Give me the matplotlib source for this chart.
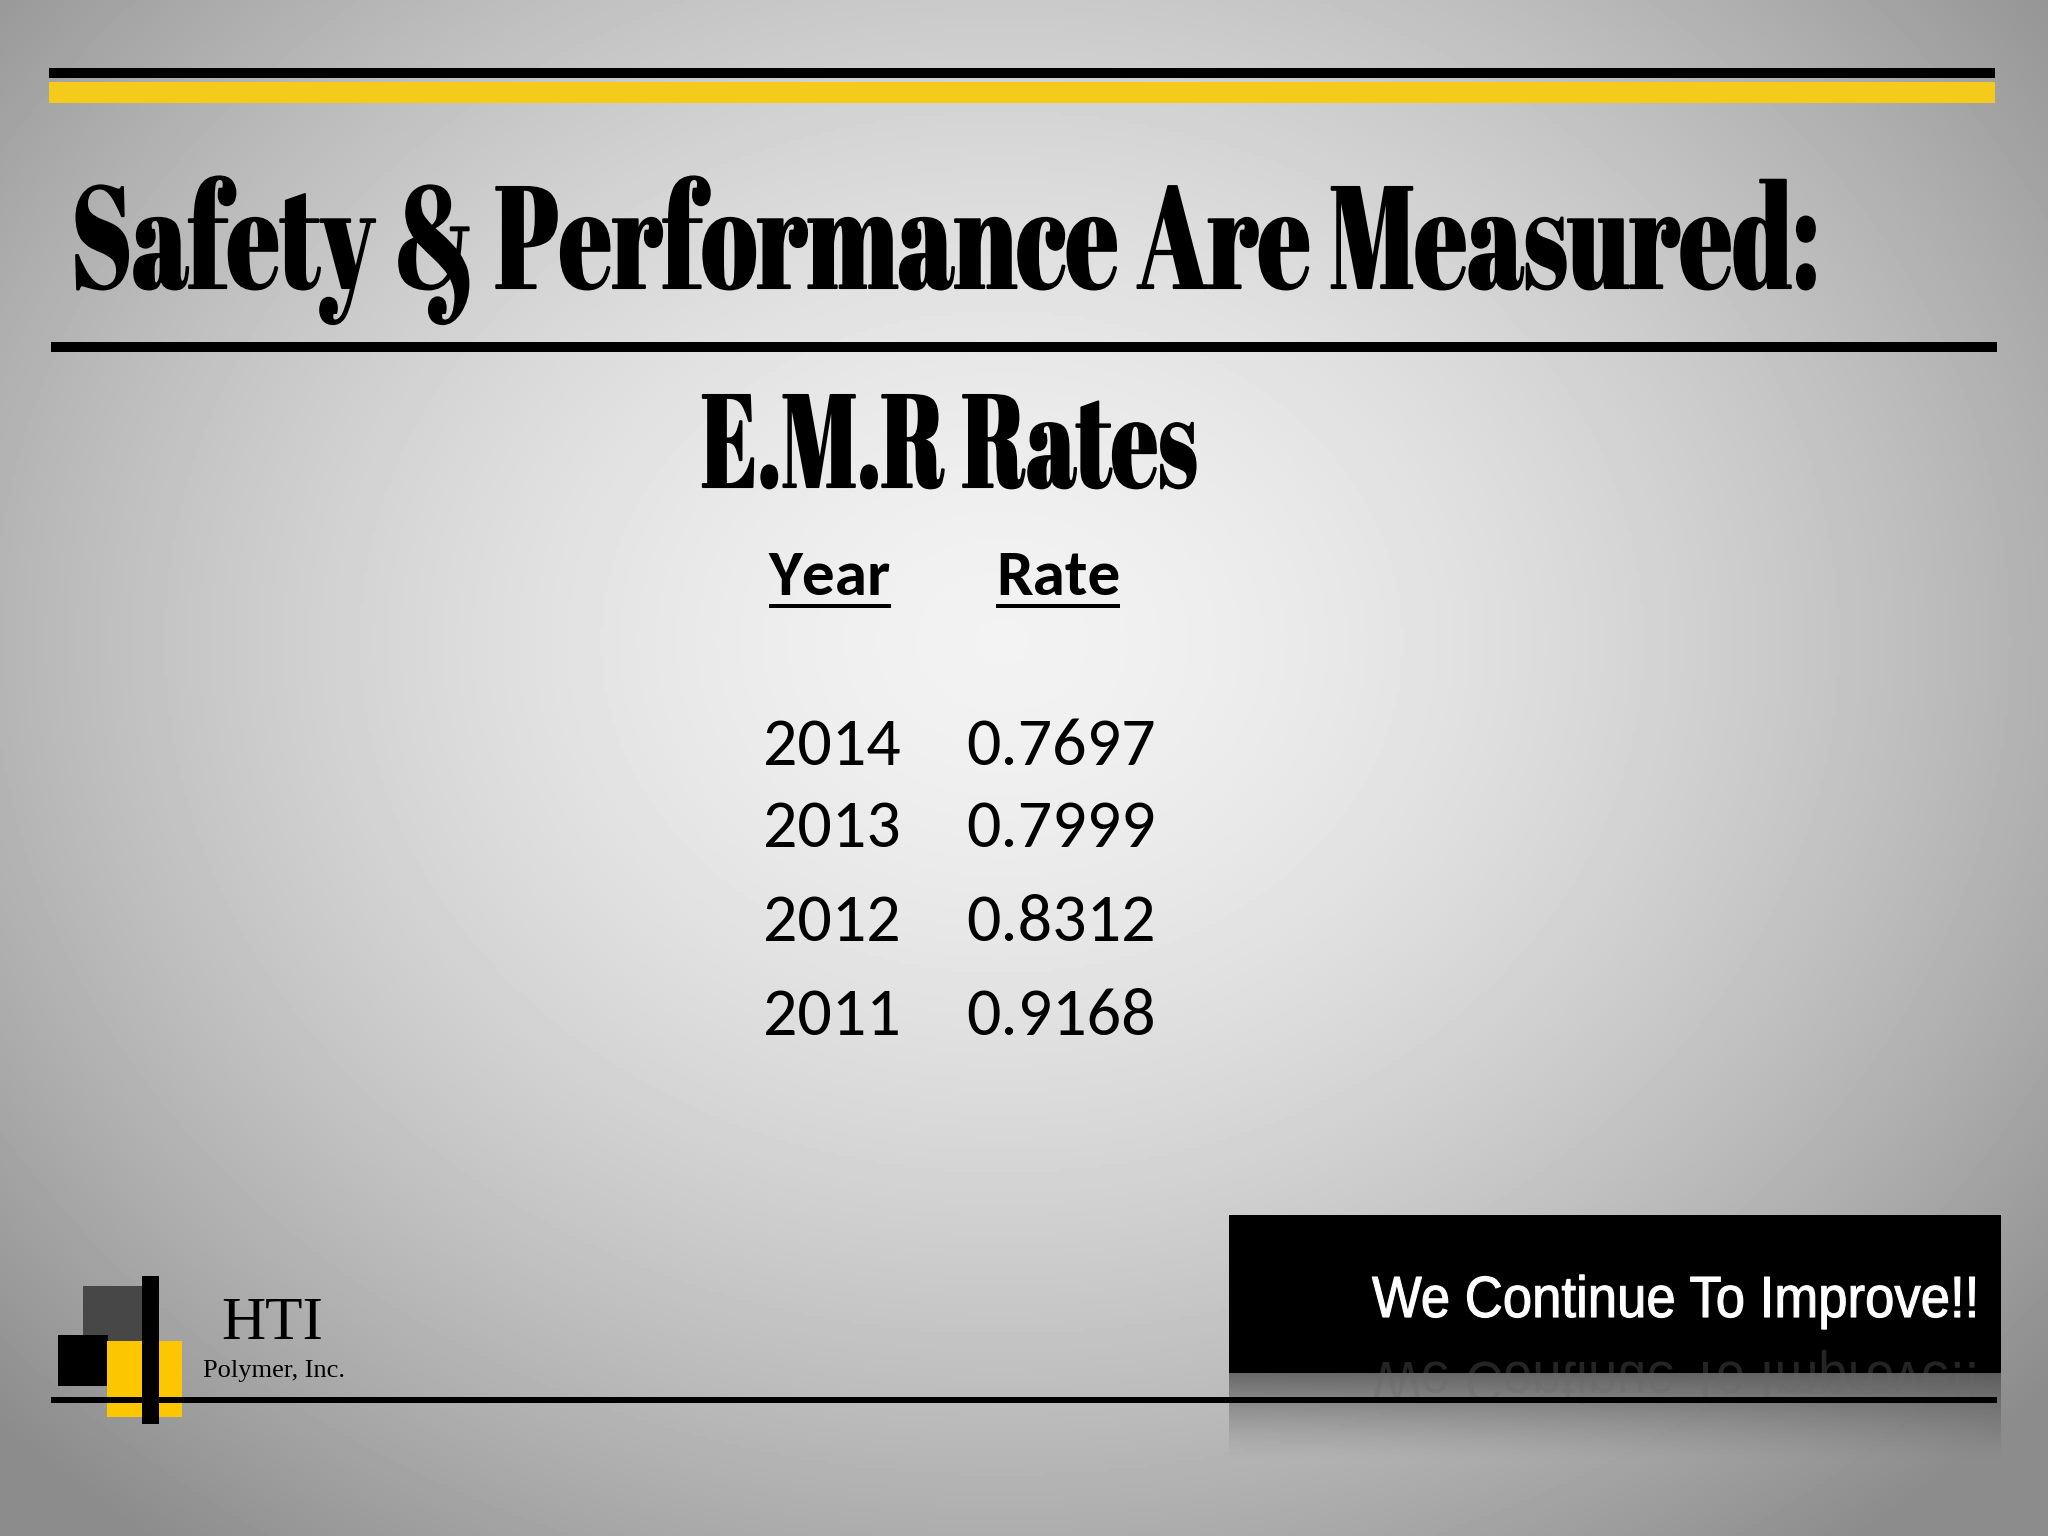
import numpy as np
import matplotlib
matplotlib.use("Agg")
import matplotlib.pyplot as plt
import matplotlib.patheffects as pe
from matplotlib.transforms import Affine2D
from matplotlib.textpath import TextPath
from matplotlib.font_manager import FontProperties
from matplotlib.patches import Rectangle

title = "Safety & Performance Are Measured:"
subtitle = "E.M.R Rates"
col_heads = ["Year", "Rate"]
years = ["2014", "2013", "2012", "2011"]
rates = ["0.7697", "0.7999", "0.8312", "0.9168"]
slogan = "We Continue To Improve!!"
company = "HTI"
company_sub = "Polymer, Inc."

W, H = 2048, 1536
YELLOW = "#f5cb1b"

fig = plt.figure(figsize=(20.48, 15.36), dpi=100)
ax = fig.add_axes([0, 0, 1, 1])
ax.set_xlim(0, W)
ax.set_ylim(H, 0)
ax.axis("off")

# slide background: light centre, grey edges
yy, xx = np.mgrid[0:H:4, 0:W:4]
r = np.sqrt(((xx - 1000) / 1150.0) ** 2 + ((yy - 640) / 950.0) ** 2)
bg = np.clip(0.95 - 0.30 * r ** 1.6, 0.55, 1)
ax.imshow(bg, cmap="gray", vmin=0, vmax=1, extent=[0, W, H, 0], zorder=0, aspect="auto")


class Squeeze(pe.AbstractPathEffect):
    """narrow the glyphs horizontally (condensed face), optional mirror / fattening"""
    def __init__(self, sx=1.0, flip=False, stroke=0.0):
        super().__init__()
        self.sx, self.flip, self.stroke = sx, flip, stroke

    def draw_path(self, renderer, gc, tpath, affine, rgbFace=None):
        m = affine.get_matrix().copy()
        m[0, :2] *= self.sx
        if self.flip:
            m[1, :2] *= -1
        tr = Affine2D(m)
        gc0 = renderer.new_gc()
        gc0.copy_properties(gc)
        if self.stroke:
            gc0.set_linewidth(self.stroke)
            gc0.set_foreground(rgbFace)
        renderer.draw_path(gc0, tpath, tr, rgbFace)
        gc0.restore()


def squeezed(x, y, s, family, cap_px, width_px, weight="normal", color="black",
             stroke=0.0, flip=False, z=5, **kw):
    fp = FontProperties(family=family, weight=weight, size=100)
    cap = TextPath((0, 0), "H", prop=fp).get_extents().height
    size = cap_px * 72.0 / cap
    t = ax.text(x, y, s, family=family, weight=weight, fontsize=size, color=color,
                va="baseline", ha="left", zorder=z, **kw)
    fig.canvas.draw()
    w = t.get_window_extent().width
    t.set_path_effects([Squeeze(width_px / w, flip=flip, stroke=stroke)])
    return t


def bar(x0, x1, y0, y1, color, z=2):
    ax.fill_between([x0, x1], y0, y1, color=color, lw=0, zorder=z)


# header rules
bar(49, 1995, 68, 78, "black")
bar(49, 1995, 82, 103, YELLOW)
bar(51, 1997, 342, 352, "black")

squeezed(71, 288, title, "Abril Fatface", 101, 1748, stroke=1.5)
squeezed(701, 487, subtitle, "Abril Fatface", 92, 496, stroke=1.5)

# table
head_x = [769, 996]
for hx, h in zip(head_x, col_heads):
    t = ax.text(hx, 595, h, family="Carlito", weight="bold", fontsize=47,
                va="baseline", ha="left", zorder=5)
    fig.canvas.draw()
    bb = t.get_window_extent()
    bar(hx, hx + bb.width, 604, 608, "black")

row_y = [765, 847, 941, 1035]
for ry, yr, rt in zip(row_y, years, rates):
    ax.text(763, ry, yr, family="Carlito", fontsize=49, va="baseline", ha="left", zorder=5)
    ax.text(966, ry, rt, family="Carlito", fontsize=49, va="baseline", ha="left", zorder=5)

# slogan box with its reflection below
bar(1229, 2001, 1215, 1373, "black", z=3)
grad = np.linspace(0, 1, 100)[:, None] * np.ones((1, 10))
refl = np.zeros((100, 10, 4))
refl[..., :3] = 0.30
refl[..., 3] = 0.75 * (1 - grad) ** 1.3
ax.imshow(refl, extent=[1229, 2001, 1460, 1373], zorder=3, aspect="auto")
squeezed(1372, 1317, slogan, "Liberation Sans", 40, 607, color="white", stroke=0.8, z=6)
mirror = squeezed(1372, 1362, slogan, "Liberation Sans", 40, 607, color="#6a6a6a",
                  flip=True, z=4, alpha=0.35)
mirror.set_clip_path(Rectangle((1229, 1340), 772, 44, transform=ax.transData))

# footer rule and logo
bar(83, 143, 1286, 1341, "#474747", z=4)
bar(58, 108, 1335, 1386, "black", z=4)
bar(107, 182, 1341, 1417, "#fdc700", z=4)
bar(51, 1997, 1397, 1403, "black", z=4)
bar(142, 159, 1276, 1424, "black", z=5)
ax.text(221, 1339, company, family="Liberation Serif", fontsize=44, va="baseline", ha="left", zorder=5)
ax.text(203, 1377, company_sub, family="Liberation Serif", fontsize=19, va="baseline", ha="left", zorder=5)

fig.savefig("out.png")
